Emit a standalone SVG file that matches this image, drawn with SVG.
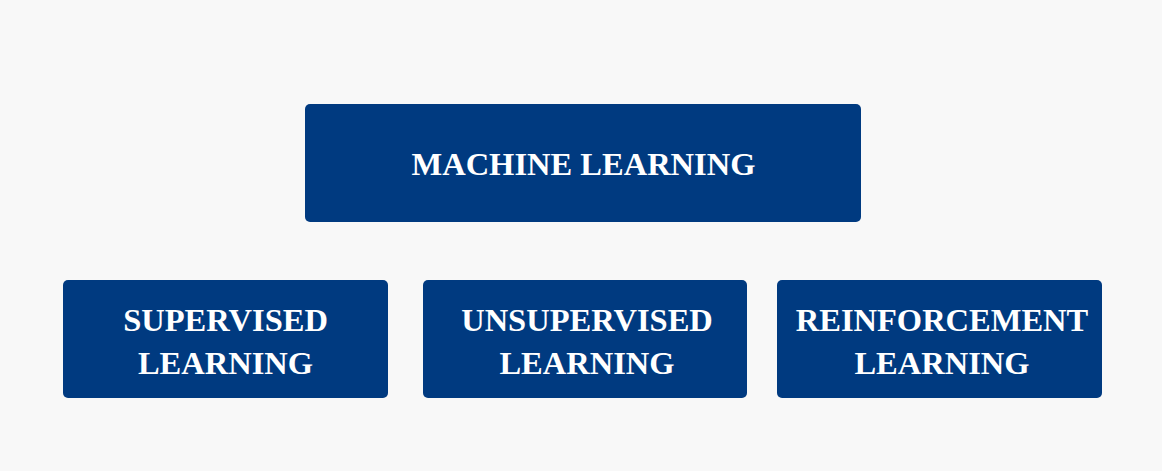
<svg xmlns="http://www.w3.org/2000/svg" width="1162" height="471" viewBox="0 0 1162 471">
<style>
.box{fill:#003a80}
.t{font-family:"Liberation Serif","Times New Roman",serif;font-size:32.5px;fill:#ffffff;text-anchor:middle;font-weight:bold}
</style>
<rect width="1162" height="471" fill="#f8f8f8"/>
<g id="connectors"></g>
<g id="machine-learning">
<rect class="box" x="305" y="104" width="556" height="118" rx="5"/>
<text class="t" x="583.5" y="174.5">MACHINE LEARNING</text>
</g>
<g id="supervised">
<rect class="box" x="63" y="280" width="325" height="118" rx="5"/>
<text class="t" x="225.5" y="330.5">SUPERVISED</text>
<text class="t" x="225.5" y="374">LEARNING</text>
</g>
<g id="unsupervised">
<rect class="box" x="423" y="280" width="324" height="118" rx="5"/>
<text class="t" x="587" y="330.5">UNSUPERVISED</text>
<text class="t" x="587" y="374">LEARNING</text>
</g>
<g id="reinforcement">
<rect class="box" x="777" y="280" width="325" height="118" rx="5"/>
<text class="t" x="942" y="330.5">REINFORCEMENT</text>
<text class="t" x="942" y="374">LEARNING</text>
</g>
</svg>
